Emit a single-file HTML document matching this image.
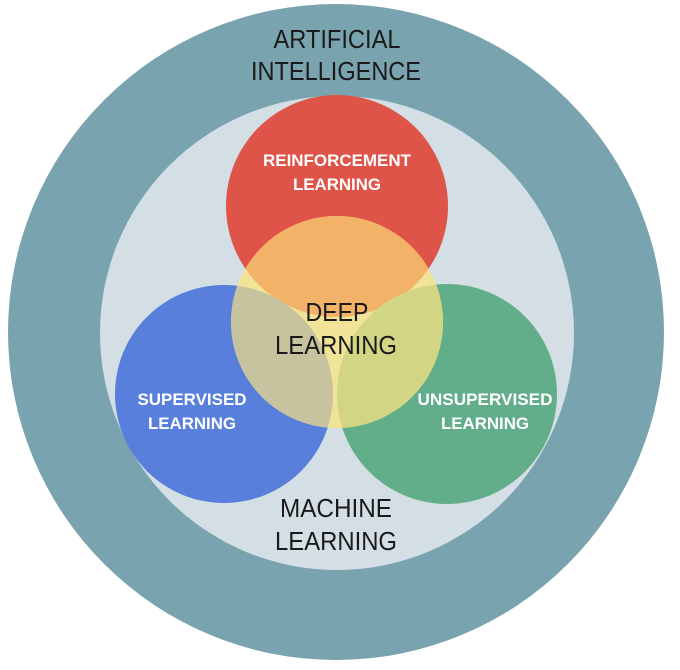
<!DOCTYPE html>
<html><head><meta charset="utf-8"><style>html,body{margin:0;padding:0;background:#fff}svg{display:block}</style></head>
<body>
<svg width="680" height="670" viewBox="0 0 680 670" xmlns="http://www.w3.org/2000/svg">
<defs>
<clipPath id="cy"><circle cx="337" cy="322" r="106"/></clipPath>
</defs>
<rect width="680" height="670" fill="#fff"/>
<circle cx="336" cy="332" r="328" fill="#79a4af"/>
<circle cx="337" cy="333" r="237" fill="#d4dee5"/>
<circle cx="337" cy="206" r="111" fill="#df5449"/>
<circle cx="224" cy="394" r="109" fill="#577fdb"/>
<circle cx="447" cy="394" r="110" fill="#63ae8a"/>
<circle cx="337" cy="322" r="106" fill="#f1e498"/>
<g clip-path="url(#cy)">
<circle cx="337" cy="206" r="111" fill="#f2b267"/>
<circle cx="224" cy="394" r="109" fill="#c7c39f"/>
<circle cx="447" cy="394" r="110" fill="#d2d583"/>
</g>
<g font-family="'Liberation Sans',sans-serif" text-anchor="middle" fill="#1a1a1a" font-size="26" lengthAdjust="spacingAndGlyphs">
<text x="337" y="48" textLength="127" lengthAdjust="spacingAndGlyphs">ARTIFICIAL</text>
<text x="336" y="80" textLength="170" lengthAdjust="spacingAndGlyphs">INTELLIGENCE</text>
<text x="337" y="321" textLength="63" lengthAdjust="spacingAndGlyphs">DEEP</text>
<text x="336" y="354" textLength="122" lengthAdjust="spacingAndGlyphs">LEARNING</text>
<text x="336" y="517" textLength="112" lengthAdjust="spacingAndGlyphs">MACHINE</text>
<text x="336" y="550" textLength="122" lengthAdjust="spacingAndGlyphs">LEARNING</text>
</g>
<g font-family="'Liberation Sans',sans-serif" text-anchor="middle" fill="#fff" font-size="17" font-weight="bold">
<text x="337" y="166" textLength="148" lengthAdjust="spacingAndGlyphs">REINFORCEMENT</text>
<text x="337" y="190" textLength="88" lengthAdjust="spacingAndGlyphs">LEARNING</text>
<text x="192" y="405" textLength="109" lengthAdjust="spacingAndGlyphs">SUPERVISED</text>
<text x="192" y="429" textLength="88" lengthAdjust="spacingAndGlyphs">LEARNING</text>
<text x="485" y="405" textLength="135" lengthAdjust="spacingAndGlyphs">UNSUPERVISED</text>
<text x="485" y="429" textLength="88" lengthAdjust="spacingAndGlyphs">LEARNING</text>
</g>
</svg>
</body></html>
